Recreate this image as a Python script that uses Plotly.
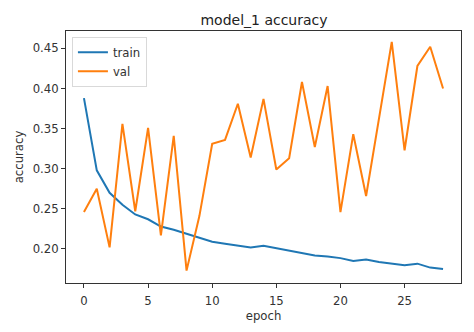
import plotly.graph_objects as go

epochs = list(range(29))
train_acc = [0.388, 0.298, 0.270, 0.255, 0.243, 0.237, 0.228, 0.224, 0.219, 0.214,
             0.209, 0.2065, 0.204, 0.202, 0.204, 0.201, 0.1975, 0.1947, 0.192, 0.1906,
             0.1886, 0.185, 0.187, 0.1837, 0.182, 0.1796, 0.1817, 0.1768, 0.175]
val_acc = [0.246, 0.275, 0.202, 0.356, 0.247, 0.351, 0.217, 0.341, 0.173, 0.241,
           0.331, 0.336, 0.381, 0.314, 0.387, 0.299, 0.313, 0.408, 0.327, 0.403,
           0.246, 0.343, 0.266, 0.362, 0.458, 0.323, 0.428, 0.452, 0.400]
x_ticks = [0, 5, 10, 15, 20, 25]
y_ticks = [0.20, 0.25, 0.30, 0.35, 0.40, 0.45]

FONT = "DejaVu Sans"
W, H = 474, 332
L, R, T, B = 66, 12, 31, 44

fig = go.Figure()
fig.add_trace(go.Scatter(x=epochs, y=train_acc, mode="lines", name="train",
                         line=dict(color="#1f77b4", width=2)))
fig.add_trace(go.Scatter(x=epochs, y=val_acc, mode="lines", name="val",
                         line=dict(color="#ff7f0e", width=2)))

axis_common = dict(showline=True, linecolor="#333333", linewidth=1, mirror=True,
                   ticks="outside", ticklen=4, tickwidth=1, tickcolor="#333333",
                   showgrid=False, zeroline=False,
                   tickfont=dict(family=FONT, size=11.7, color="#333333"))

fig.update_layout(
    width=W, height=H,
    margin=dict(l=L, r=R, t=T, b=B, pad=0),
    paper_bgcolor="white", plot_bgcolor="white",
    font=dict(family=FONT, color="#333333"),
    title=dict(text="model_1 accuracy", x=(L + (W - L - R) / 2) / W, xanchor="center",
               y=1 - 20 / H, yanchor="middle", yref="container",
               font=dict(family=FONT, size=14, color="#222222")),
    xaxis=dict(range=[-1.4, 29.4], tickvals=x_ticks, ticklabelstandoff=3,
               title=dict(text="epoch", font=dict(family=FONT, size=11.7, color="#333333"), standoff=4),
               **axis_common),
    yaxis=dict(range=[0.1576, 0.4716], tickvals=y_ticks, tickformat=".2f",
               title=dict(text="accuracy", font=dict(family=FONT, size=11.7, color="#333333"), standoff=6),
               **axis_common),
    legend=dict(x=0.015, y=0.977, xanchor="left", yanchor="top",
                bgcolor="rgba(255,255,255,0.8)", bordercolor="#d9d9d9", borderwidth=1,
                font=dict(family=FONT, size=11.7, color="#333333"),
                itemwidth=30, tracegroupgap=0),
    showlegend=True,
)

fig.write_html("out.html")
